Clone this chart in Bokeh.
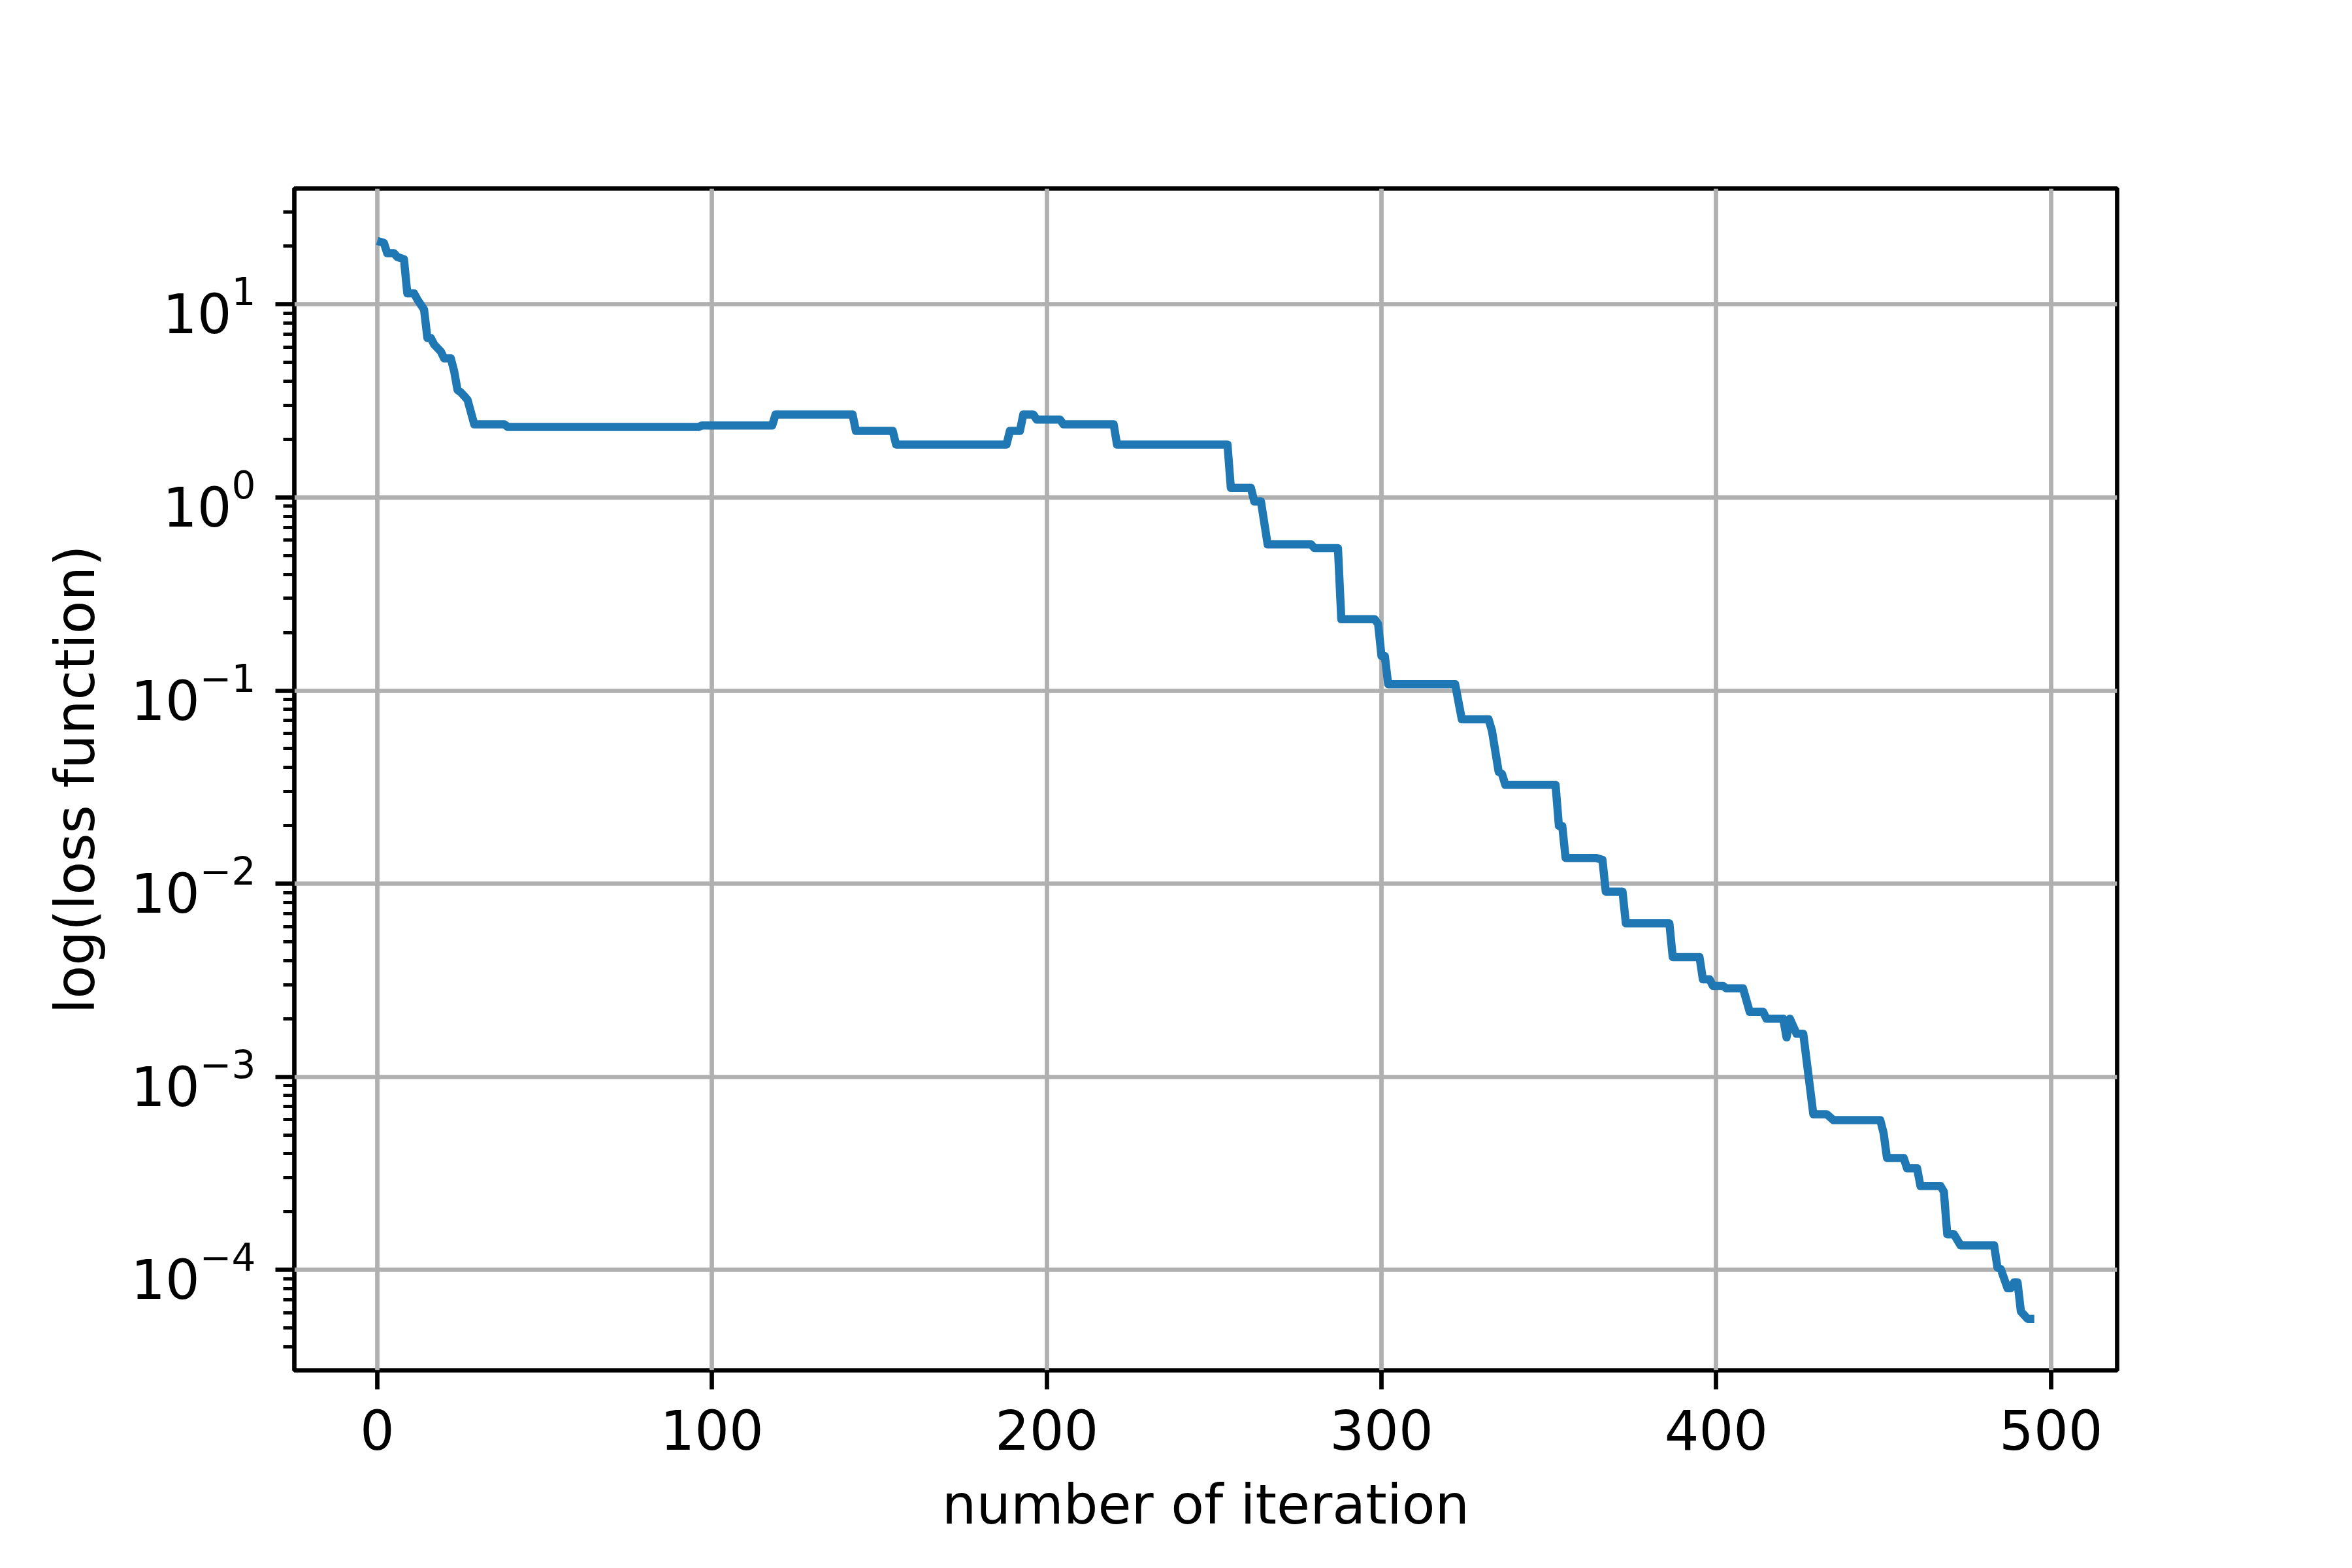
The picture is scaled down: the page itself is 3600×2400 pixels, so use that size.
from bokeh.plotting import figure
from bokeh.models import Range1d, FixedTicker, LogTicker
from bokeh.embed import file_html
from bokeh.resources import INLINE

# iteration index of each vertex of the curve
iteration = [0, 2, 3, 5, 6, 8, 9, 11, 12, 14, 15, 16, 17, 19, 20, 22, 23, 24, 25, 26, 27, 29,
             38, 39, 96, 97, 118, 119, 142, 143, 154, 155, 188, 189, 192, 193, 196, 197,
             204, 205, 220, 221, 254, 255, 261, 262, 264, 266, 279, 280, 287, 288, 298, 299,
             300, 301, 302, 322, 324, 332, 333, 335, 336, 337, 352, 353, 354, 355, 364, 366,
             367, 372, 373, 386, 387, 395, 396, 398, 399, 402, 403, 408, 410, 414, 415, 420,
             421, 422, 424, 426, 429, 433, 435, 449, 450, 451, 456, 457, 460, 461, 467, 468,
             469, 471, 473, 483, 484, 485, 487, 488, 489, 490, 491, 493, 495]
# loss value at each vertex
loss = [21.3, 20.8, 18.4, 18.4, 17.6, 17.1, 11.4, 11.4, 10.6, 9.4, 6.7, 6.7, 6.2, 5.7, 5.25, 5.25,
        4.5, 3.6, 3.5, 3.35, 3.2, 2.39,
        2.39, 2.32, 2.32, 2.36, 2.36, 2.69, 2.69, 2.21, 2.21, 1.88, 1.88, 2.21, 2.21, 2.69, 2.69, 2.53,
        2.53, 2.39, 2.39, 1.88, 1.88, 1.12, 1.12, 0.953, 0.953, 0.571, 0.571, 0.546, 0.546, 0.234,
        0.234, 0.221,
        0.151, 0.151, 0.108, 0.108, 0.071, 0.071, 0.062, 0.038, 0.037, 0.0325, 0.0325, 0.0199,
        0.0199, 0.0136, 0.0136, 0.0133,
        0.0091, 0.0091, 0.00623, 0.00623, 0.00417, 0.00417, 0.0032, 0.0032, 0.00296, 0.00296,
        0.00287, 0.00287, 0.00217, 0.00217, 0.0020, 0.0020,
        0.0016, 0.0020, 0.00167, 0.00167, 0.00064, 0.00064, 0.000597, 0.000597, 0.00051, 0.00038,
        0.00038, 0.000336, 0.000336, 0.000272, 0.000272, 0.000254,
        0.000153, 0.000153, 0.000134, 0.000134, 0.000103, 0.000101, 8.05e-5, 8.05e-5, 8.63e-5,
        8.63e-5, 6.1e-5, 5.58e-5, 5.58e-5]

x_ticks = [0, 100, 200, 300, 400, 500]

FONT = "DejaVu Sans"
FS = "83px"

p = figure(width=3584, height=2384, output_backend="svg", toolbar_location=None,
           y_axis_type="log",
           x_range=Range1d(-24.75, 519.75), y_range=Range1d(3.02e-5, 39.8),
           min_border_left=450, min_border_right=344, min_border_top=288,
           min_border_bottom=287)
p.title.visible = False
p.background_fill_color = "white"
p.border_fill_color = "white"
p.outline_line_color = "black"
p.outline_line_width = 6.7

p.line(iteration, loss, line_color="#1f77b4", line_width=12.5, line_join="round")

p.xaxis.ticker = FixedTicker(ticks=x_ticks)
p.xgrid.ticker = FixedTicker(ticks=x_ticks)
p.yaxis.ticker = LogTicker(num_minor_ticks=10)
p.ygrid.ticker = p.yaxis.ticker

for g in (p.xgrid, p.ygrid):
    g.grid_line_color = "#b0b0b0"
    g.grid_line_width = 6.7

for ax in (p.xaxis, p.yaxis):
    ax.axis_line_color = None
    ax.major_tick_in = 0
    ax.major_tick_out = 29
    ax.major_tick_line_width = 6.7
    ax.major_tick_line_color = "black"
    ax.minor_tick_in = 0
    ax.minor_tick_out = 17
    ax.minor_tick_line_width = 5
    ax.minor_tick_line_color = "black"
    ax.major_label_text_font = FONT
    ax.major_label_text_font_size = FS
    ax.major_label_text_color = "black"
    ax.major_label_standoff = 30
    ax.axis_label_text_font = FONT
    ax.axis_label_text_font_size = FS
    ax.axis_label_text_font_style = "normal"
    ax.axis_label_text_color = "black"
    ax.axis_label_standoff = 33

p.xaxis.minor_tick_line_color = None
p.xaxis.axis_label = "number of iteration"
p.yaxis.axis_label = "log(loss function)"

open("out.html", "w").write(file_html(p, INLINE))
